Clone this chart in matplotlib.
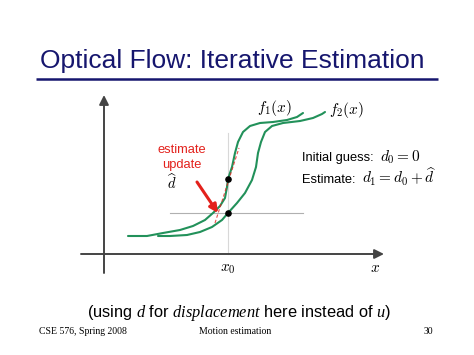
import matplotlib
matplotlib.use("Agg")
import matplotlib.pyplot as plt

plt.rcParams['mathtext.fontset'] = 'custom'
plt.rcParams['mathtext.it'] = 'Liberation Serif:italic'
plt.rcParams['mathtext.rm'] = 'Liberation Serif'

# ---- data (pixel-space diagram coordinates) ----
f1_x = [128, 147, 163, 180, 193, 205, 213, 220, 225, 227, 228, 232, 235,
        238, 243, 250, 260, 273, 287, 297, 303]
f1_y = [236, 236, 233, 230, 226, 220, 213, 206, 198, 187, 179, 167, 153,
        142, 132, 126, 123, 122, 120, 117, 113]
f2_x = [158, 170, 187, 200, 212, 222, 228, 237, 245, 252, 256, 258, 261,
        265, 272, 283, 300, 313, 322, 325]
f2_y = [236, 236, 235, 232, 227, 220, 213, 203, 193, 180, 167, 153, 142,
        132, 126, 123, 121, 118, 114, 112]
x0 = 228
dots_y = [179, 213]
tangent_x = [215, 239]
tangent_y = [223, 148]
hline_x = [170, 303]
hline_y = 213

title = "Optical Flow: Iterative Estimation"
caption = "(using $d$ for $displacement$ here instead of $u$)"
footer_left = "CSE 576, Spring 2008"
footer_mid = "Motion estimation"
footer_right = "30"

W, H = 474, 355
fig = plt.figure(figsize=(W / 100, H / 100), dpi=100)
ax = fig.add_axes([0, 0, 1, 1])
ax.set_xlim(0, W)
ax.set_ylim(H, 0)
ax.axis('off')

navy = '#16166e'
green = '#22915a'
red = '#e3211c'

# title + underline
ax.text(40, 68, title, fontsize=19, family='Liberation Sans', color=navy,
        ha='left', va='baseline')
ax.plot([36, 438], [79, 79], color=navy, lw=1.8, solid_capstyle='butt')

# axes of the diagram
ax.annotate('', xy=(104, 95), xytext=(104, 273),
            arrowprops=dict(arrowstyle='-|>', color='#444444', lw=1.4,
                            mutation_scale=14, shrinkA=0, shrinkB=0))
ax.annotate('', xy=(384, 254), xytext=(81, 254),
            arrowprops=dict(arrowstyle='-|>', color='#444444', lw=1.4,
                            mutation_scale=14, shrinkA=0, shrinkB=0))

# guide lines
ax.plot([x0, x0], [133, 254], color='#d8d8d8', lw=0.8)
ax.plot(hline_x, [hline_y, hline_y], color='#b0b0b0', lw=0.8)

# curves
ax.plot(f1_x, f1_y, color=green, lw=1.5, solid_joinstyle='round',
        solid_capstyle='round')
ax.plot(f2_x, f2_y, color=green, lw=1.5, solid_joinstyle='round',
        solid_capstyle='round')

# tangent
ax.plot(tangent_x, tangent_y, color=red, lw=0.8, ls=(0, (3, 2)), alpha=0.8)

# dots
ax.scatter([x0] * len(dots_y), dots_y, s=14, color='black', zorder=5)

# red arrow
ax.annotate('', xy=(218, 213), xytext=(197, 182),
            arrowprops=dict(arrowstyle='-|>', color=red, lw=2.2,
                            mutation_scale=12, shrinkA=0, shrinkB=0))

# labels
ax.text(182, 153, "estimate", fontsize=9.3, family='Liberation Sans',
        color=red, ha='center', va='baseline')
ax.text(182, 168, "update", fontsize=9.3, family='Liberation Sans',
        color=red, ha='center', va='baseline')
ax.text(172, 189, r"$\widehat{d}$", fontsize=10.5, ha='center',
        va='baseline', math_fontfamily='cm')
ax.text(274, 108, r"$f_1(x)$", fontsize=11, ha='center', va='center',
        math_fontfamily='cm')
ax.text(346, 110, r"$f_2(x)$", fontsize=11, ha='center', va='center',
        math_fontfamily='cm')
ax.text(228, 268, r"$x_0$", fontsize=11, ha='center', va='center',
        math_fontfamily='cm')
ax.text(375, 267, r"$x$", fontsize=11, ha='center', va='center',
        math_fontfamily='cm')

ax.text(302, 161, "Initial guess:", fontsize=9.3, family='Liberation Sans',
        ha='left', va='baseline')
ax.text(380, 161, r"$d_0 = 0$", fontsize=11, ha='left', va='baseline',
        math_fontfamily='cm')
ax.text(302, 183, "Estimate:", fontsize=9.3, family='Liberation Sans',
        ha='left', va='baseline')
ax.text(362, 183, r"$d_1 = d_0 + \widehat{d}$", fontsize=11, ha='left',
        va='baseline', math_fontfamily='cm')

# caption
ax.text(239, 317, caption, fontsize=11.8, family='Liberation Sans',
        ha='center', va='baseline', math_fontfamily='custom')

# footer
ax.text(39, 334, footer_left, fontsize=7, family='Liberation Serif',
        ha='left', va='baseline')
ax.text(235, 334, footer_mid, fontsize=7, family='Liberation Serif',
        ha='center', va='baseline')
ax.text(433, 334, footer_right, fontsize=7, family='Liberation Serif',
        ha='right', va='baseline')

fig.savefig('out.png', dpi=100, facecolor='white')
